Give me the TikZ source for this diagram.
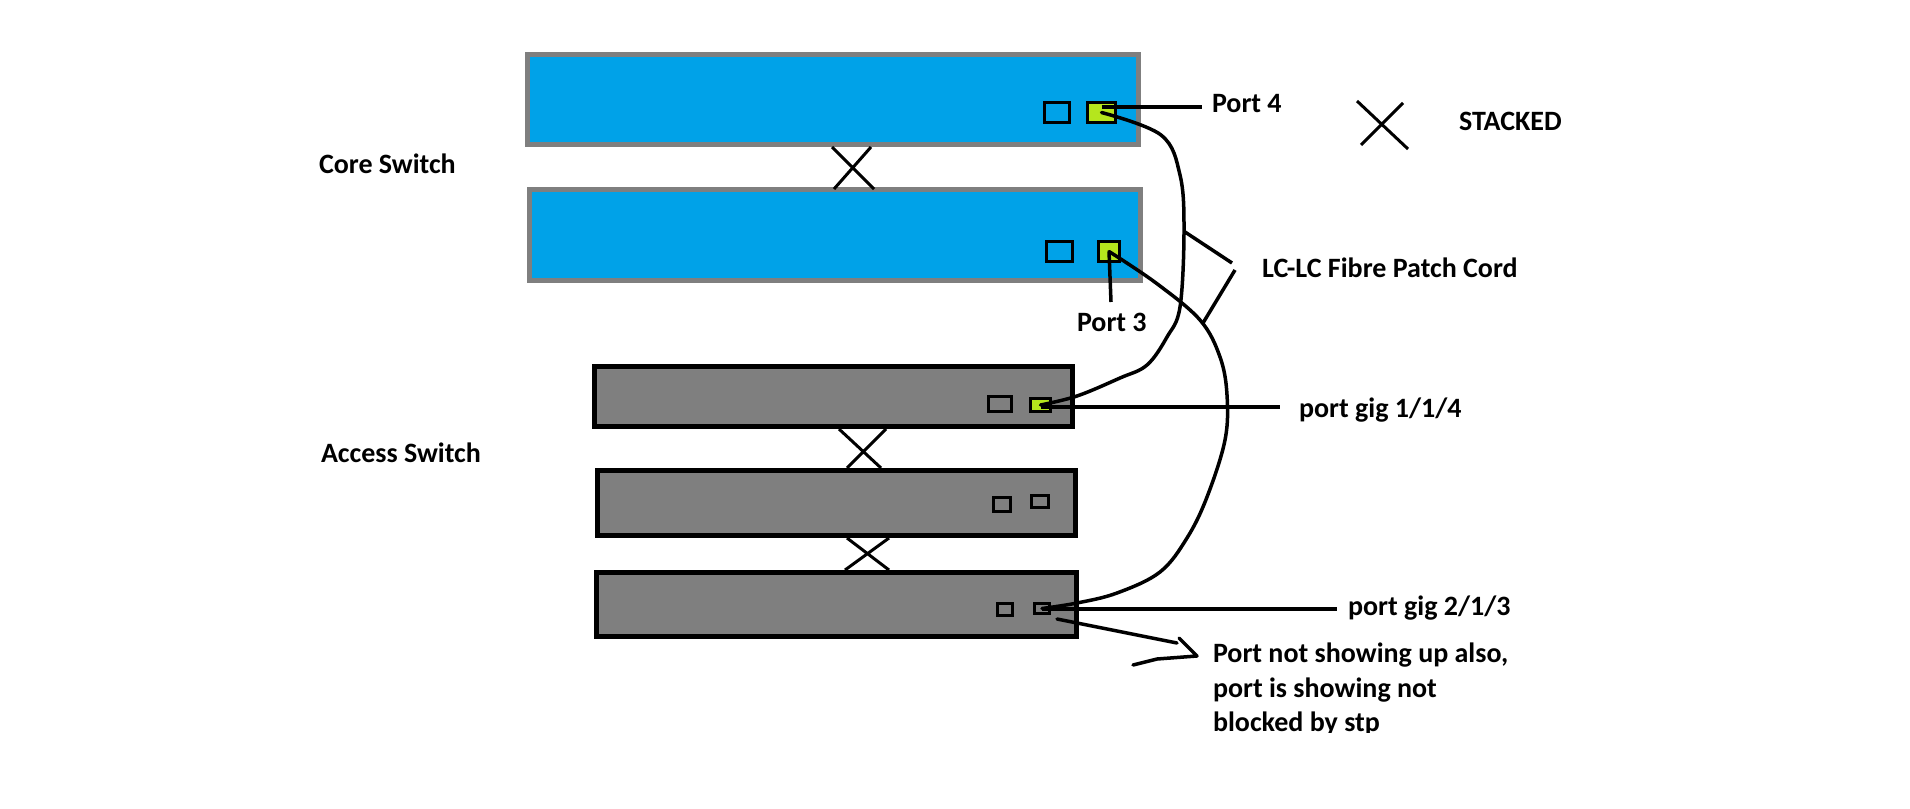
\documentclass[tikz,border=0pt]{standalone}
\usepackage{fontspec}
\setmainfont{Carlito}
\definecolor{coreblue}{HTML}{00A2E8}
\definecolor{framegrey}{HTML}{7F7F7F}
\definecolor{portgreen}{HTML}{B5E61D}
\begin{document}
\begin{tikzpicture}[x=1pt,y=-1pt,
  every node/.style={font=\fontsize{28}{34.5}\selectfont\bfseries, inner sep=0pt, outer sep=0pt},
  coresw/.style={draw=framegrey, fill=coreblue, line width=5pt, rectangle},
  accsw/.style={draw=black, fill=framegrey, line width=4.5pt, rectangle},
  portbox/.style={draw=black, line width=3pt, rectangle},
  cable/.style={draw=black, line width=3.5pt, line cap=round, line join=round},
  pointer/.style={draw=black, line width=3.5pt},
  stackx/.style={draw=black, line width=3pt},
  lbl/.style={anchor=base west}
]
\useasboundingbox (0,0) rectangle (1910,808);
\fill[white] (0,0) rectangle (1910,808);

% core switches
\node[coresw, minimum width=611pt, minimum height=90pt] (c1) at (833,99.5) {};
\node[coresw, minimum width=611pt, minimum height=91pt] (c2) at (835,235) {};
% access switches
\node[accsw, minimum width=478pt, minimum height=60pt] (a1) at (833.5,396.5) {};
\node[accsw, minimum width=478pt, minimum height=65pt] (a2) at (836.5,503) {};
\node[accsw, minimum width=480pt, minimum height=64pt] (a3) at (836.5,604.5) {};

% ports
\node[portbox, minimum width=25pt, minimum height=20pt] (c1a) at (1057,112.5) {};
\node[portbox, fill=portgreen, minimum width=28pt, minimum height=20pt] (p4) at (1101.5,112.5) {};
\node[portbox, minimum width=26pt, minimum height=20pt] (c2a) at (1059.5,251.5) {};
\node[portbox, fill=portgreen, minimum width=21pt, minimum height=20pt] (p3) at (1109,251.5) {};
\node[portbox, minimum width=23pt, minimum height=15pt] (a1a) at (1000,404) {};
\node[portbox, fill=portgreen, minimum width=20pt, minimum height=13pt] (g114) at (1040.5,405) {};
\node[portbox, minimum width=17pt, minimum height=14pt] (a2a) at (1002,504.5) {};
\node[portbox, minimum width=17pt, minimum height=12pt] (a2b) at (1040,501.5) {};
\node[portbox, minimum width=15pt, minimum height=12pt] (a3a) at (1005,609.5) {};
\node[portbox, minimum width=15pt, minimum height=10pt] (g213) at (1042,608.5) {};

% stack crosses
\draw[stackx] (832,147) -- (874,189) (871,147) -- (834,189);
\draw[stackx] (839,429) -- (881,468) (886,429) -- (847,468);
\draw[stackx] (847,538) -- (889,570) (889,538) -- (845,570);
\draw[stackx] (1357,101) -- (1408,149) (1403,103) -- (1361,145);

% labels
\node[lbl] (lcore) at (319,173) {Core Switch};
\node[lbl] (lacc) at (321,462) {Access Switch};
\node[lbl] (lp4) at (1212,112) {Port 4};
\node[lbl] (lstk) at (1459,130) {STACKED};
\node[lbl] (llc) at (1262,277) {LC-LC Fibre Patch Cord};
\node[lbl] (lp3) at (1077,331) {Port 3};
\node[lbl] (lg114) at (1299,417) {port gig 1/1/4};
\node[lbl] (lg213) at (1348,615) {port gig 2/1/3};
\begin{scope}
  \clip (1150,620) rectangle (1700,732);
  \node[anchor=north west, align=left] (lnote) at (1213,643) {Port not showing up also,\\port is showing not\\blocked by stp};
\end{scope}

% pointer coordinates
\coordinate (p4end) at (1202,107);
\coordinate (p3end) at (1111,302);
\coordinate (lcA) at (1232,263);
\coordinate (lcAt) at (1185,232);
\coordinate (lcB) at (1235,270);
\coordinate (lcBt) at (1203,323);
\coordinate (g114end) at (1280,407);
\coordinate (g213end) at (1337,609);
\coordinate (notestart) at (1057,619);
\coordinate (noteend) at (1177,643);

% label pointers
\draw[pointer] (p4end -| p4.center) -- (p4end);
\draw[pointer] (p3.center) -- (p3end);
\draw[pointer] (lcA) -- (lcAt);
\draw[pointer] (lcB) -- (lcBt);
\draw[pointer] (g114end -| g114.center) -- (g114end);
\draw[pointer] (g213end -| g213.center) -- (g213end);
\draw[pointer, line cap=round] (notestart) -- (noteend);
\draw[pointer, line cap=round, line join=round] (1179,638) -- (1197,656) -- (1157,659) -- (1133,665);

% fibre cables
\draw[cable] plot[smooth, tension=0.6] coordinates {(p4.center) (1161,135) (1180,175) (1184,230) (1180,307) (1167,337) (1147,365) (1120,378) (1077,396) (g114.center)};
\draw[cable] plot[smooth, tension=0.6] coordinates {(p3.center) (1156,283) (1200,320) (1220,357) (1227,395) (1225,440) (1207,497) (1187,538) (1160,572) (1117,593) (1077,603) (g213.center)};
\end{tikzpicture}
\end{document}
